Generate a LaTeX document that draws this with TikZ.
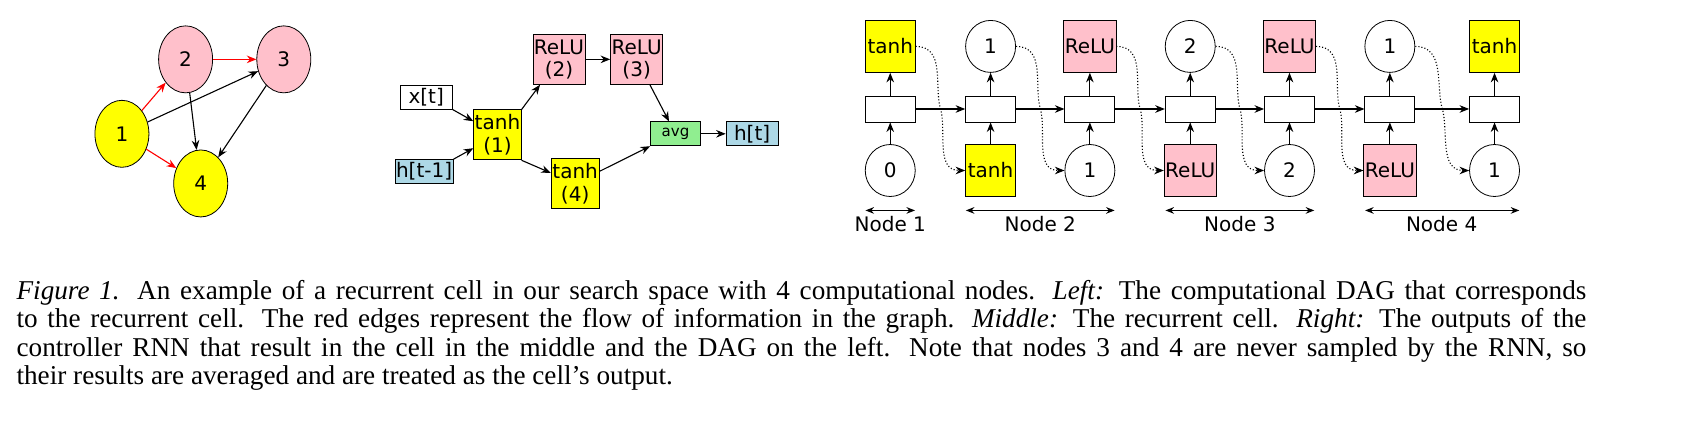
\documentclass[tikz,border=0pt]{standalone}
\usepackage{fontspec}
\setmainfont{Liberation Serif}
\newfontfamily\dv{DejaVu Sans}
\usetikzlibrary{arrows.meta,shapes.geometric,calc}
\definecolor{pk}{RGB}{255,192,203}
\definecolor{yl}{RGB}{255,255,0}
\definecolor{gr}{RGB}{144,238,144}
\definecolor{bl}{RGB}{173,216,230}
\begin{document}
\begin{tikzpicture}[x=0.5396pt,y=-0.5396pt,
  every node/.style={font=\dv\fontsize{10}{11.3}\selectfont},
  el/.style={draw,ellipse,minimum width=27pt,minimum height=33.5pt,inner sep=0pt},
  bx/.style={draw,rectangle,inner sep=0.5pt,align=center},
  cb/.style={bx,minimum width=25pt,minimum height=26pt},
  cc/.style={draw,ellipse,minimum width=25pt,minimum height=26pt,inner sep=0pt},
  mr/.style={draw,rectangle,minimum width=25pt,minimum height=13pt},
  ar/.style={-{Stealth[length=4.8pt,width=3.8pt]},line width=0.55pt},
  dt/.style={ar,densely dotted},
  sp/.style={{Stealth[length=4.3pt,width=3.3pt]}-{Stealth[length=4.3pt,width=3.3pt]},line width=0.65pt}]
\useasboundingbox (0,0) rectangle (1568,394);
% left DAG
\node[el,fill=yl] (n1) at (113,124) {1};
\node[el,fill=pk] (n2) at (172,55) {2};
\node[el,fill=pk] (n3) at (263,55) {3};
\node[el,fill=yl] (n4) at (186,170) {4};
\draw[ar,red] (n1) -- (n2);
\draw[ar,red] (n1) -- (n4);
\draw[ar,red] (n2) -- (n3);
\draw[ar] (n1) -- (n3);
\draw[ar] (n2) -- (n4);
\draw[ar] (n3) -- (n4);
% middle cell
\node[bx,minimum width=26pt,minimum height=12pt] (xt) at (395,90) {x[t]};
\node[bx,fill=bl,minimum width=28pt,minimum height=12pt] (ht1) at (393,159) {h[t-1]};
\node[bx,fill=yl,minimum width=23pt,minimum height=25pt] (t1) at (461,125) {tanh\\(1)};
\node[bx,fill=pk,minimum width=23pt,minimum height=25pt] (r2) at (518,55) {ReLU\\(2)};
\node[bx,fill=pk,minimum width=23pt,minimum height=25pt] (r3) at (590,55) {ReLU\\(3)};
\node[bx,fill=yl,minimum width=24pt,minimum height=25pt] (t4) at (533,170) {tanh\\(4)};
\node[bx,fill=gr,minimum width=25pt,minimum height=12pt,font=\dv\fontsize{7.5}{8.5}\selectfont] (avg) at (626,124) {avg};
\node[bx,fill=bl,minimum width=26pt,minimum height=12pt] (ht) at (697,124) {h[t]};
\draw[ar] (xt.south east) -- (t1);
\draw[ar] (ht1.north east) -- (t1);
\draw[ar] (t1.north east) -- (r2);
\draw[ar] (t1.south east) -- (t4);
\draw[ar] (r2) -- (r3);
\draw[ar] (r3) -- (avg);
\draw[ar] (t4) -- (avg.south west);
\draw[ar] (avg) -- (ht);
% right: controller RNN
\foreach \i/\x in {1/825,2/918,3/1010,4/1103,5/1195,6/1288,7/1385}{
  \node[mr] (m\i) at (\x,101) {};
}
\node[cb,fill=yl] (a1) at (825,43) {tanh};
\node[cc] (a2) at (918,43) {1};
\node[cb,fill=pk] (a3) at (1010,43) {ReLU};
\node[cc] (a4) at (1103,43) {2};
\node[cb,fill=pk] (a5) at (1195,43) {ReLU};
\node[cc] (a6) at (1288,43) {1};
\node[cb,fill=yl] (a7) at (1385,43) {tanh};
\node[cc] (b1) at (825,158) {0};
\node[cb,fill=yl] (b2) at (918,158) {tanh};
\node[cc] (b3) at (1010,158) {1};
\node[cb,fill=pk] (b4) at (1103,158) {ReLU};
\node[cc] (b5) at (1195,158) {2};
\node[cb,fill=pk] (b6) at (1288,158) {ReLU};
\node[cc] (b7) at (1385,158) {1};
\foreach \i in {1,...,7}{
  \draw[ar] (b\i) -- (m\i);
  \draw[ar] (m\i) -- (a\i);
}
\foreach \i/\j in {1/2,2/3,3/4,4/5,5/6,6/7}{
  \draw[ar] (m\i) -- (m\j);
  \draw[dt] (a\i.east) .. controls +(28,0) and +(-6,-20) .. ($(a\i.east)!0.5!(b\j.west)$) .. controls +(6,20) and +(-28,0) .. (b\j.west);
}
% spans
\coordinate (s1a) at (802,195); \coordinate (s1b) at (848,195);
\coordinate (s2a) at (895,195); \coordinate (s2b) at (1033,195);
\coordinate (s3a) at (1080,195); \coordinate (s3b) at (1218,195);
\coordinate (s4a) at (1265,195); \coordinate (s4b) at (1408,195);
\draw[sp] (s1a) -- (s1b);
\draw[sp] (s2a) -- (s2b);
\draw[sp] (s3a) -- (s3b);
\draw[sp] (s4a) -- (s4b);
\node (l1) at (825,208) {Node 1};
\node (l2) at (964,208) {Node 2};
\node (l3) at (1149,208) {Node 3};
\node (l4) at (1336,208) {Node 4};
% caption
\node[anchor=north west,inner sep=0pt,font=\rmfamily\fontsize{13.6}{14.3}\selectfont] (cap) at (15,259) {\parbox{785pt}{\emph{Figure 1.} An example of a recurrent cell in our search space with 4 computational nodes. \emph{Left:} The computational DAG that corresponds\linebreak to the recurrent cell. The red edges represent the flow of information in the graph. \emph{Middle:} The recurrent cell. \emph{Right:} The outputs of the\linebreak controller RNN that result in the cell in the middle and the DAG on the left. Note that nodes 3 and 4 are never sampled by the RNN, so\linebreak their results are averaged and are treated as the cell's output.}};
\end{tikzpicture}
\end{document}
